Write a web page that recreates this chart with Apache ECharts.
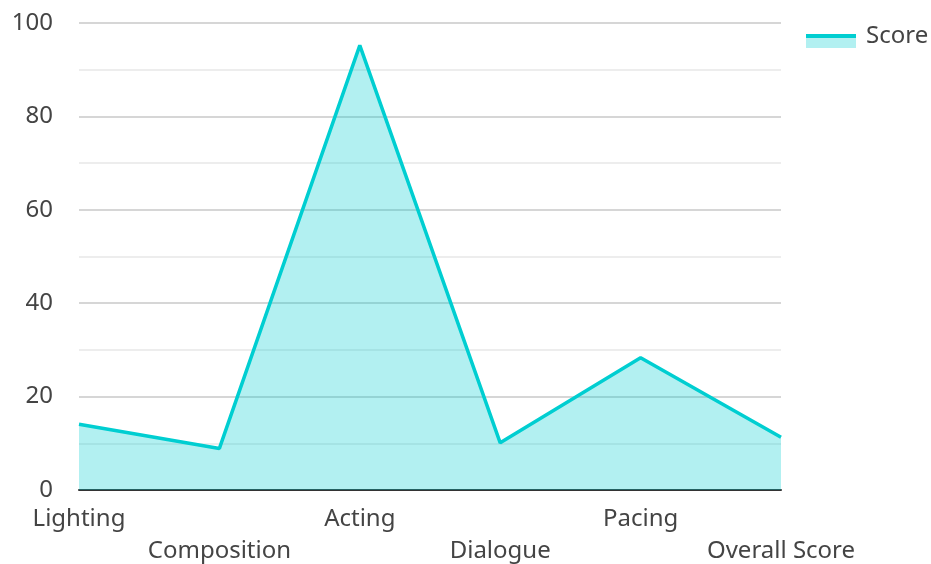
<!DOCTYPE html>
<html><head><meta charset="utf-8">
<script src="https://cdn.jsdelivr.net/npm/echarts@6/dist/echarts.min.js"></script>
<style>html,body{margin:0;padding:0;background:#fff}#c{width:931px;height:564px}</style>
</head><body><div id="c"></div>
<script>
const categories = ['Lighting','Composition','Acting','Dialogue','Pacing','Overall Score'];
const scores = [14.1, 8.9, 95.2, 10.1, 28.3, 11.3];
const yTicks = {min: 0, max: 100, interval: 20};

const lineColor = '#00CED1';
const chart = echarts.init(document.getElementById('c'), null, {renderer: 'canvas'});
chart.setOption({
  animation: false,
  textStyle: {fontFamily: 'Noto Sans'},
  legend: {
    left: 806, top: 24, itemWidth: 50, itemHeight: 4, itemGap: 10,
    padding: 0,
    icon: 'rect',
    itemStyle: {color: lineColor, borderWidth: 0},
    textStyle: {fontSize: 24, color: '#444', fontFamily: 'Noto Sans', padding: [0, 0, 0, 5]},
    data: ['Score']
  },
  graphic: [{
    type: 'rect', z: 100,
    shape: {x: 806, y: 37, width: 50, height: 11},
    style: {fill: 'rgba(0,206,209,0.3)'}
  }],
  grid: {left: 79, right: 150, top: 23, bottom: 74, containLabel: false, outerBoundsMode: 'none'},
  xAxis: {
    type: 'category', data: categories, boundaryGap: false,
    axisLine: {lineStyle: {color: '#333', width: 2}},
    axisTick: {show: false},
    axisLabel: {
      interval: 0, fontSize: 24, color: '#444', margin: 13, lineHeight: 32,
      fontFamily: 'Noto Sans',
      formatter: (v, i) => (i % 2 === 1 ? '\n' + v : v)
    }
  },
  yAxis: {
    type: 'value', min: yTicks.min, max: yTicks.max, interval: yTicks.interval,
    axisLine: {show: false}, axisTick: {show: false},
    axisLabel: {fontSize: 24, color: '#444', margin: 26, fontFamily: 'Noto Sans'},
    splitLine: {lineStyle: {color: '#c8c8c8', width: 1.5}},
    minorTick: {show: false, splitNumber: 2},
    minorSplitLine: {show: true, lineStyle: {color: '#e8e8e8', width: 1.5}}
  },
  series: [{
    name: 'Score', type: 'line', data: scores,
    symbol: 'none', showSymbol: false,
    lineStyle: {color: lineColor, width: 3.5},
    itemStyle: {color: lineColor},
    areaStyle: {color: lineColor, opacity: 0.3}
  }]
});
</script></body></html>
